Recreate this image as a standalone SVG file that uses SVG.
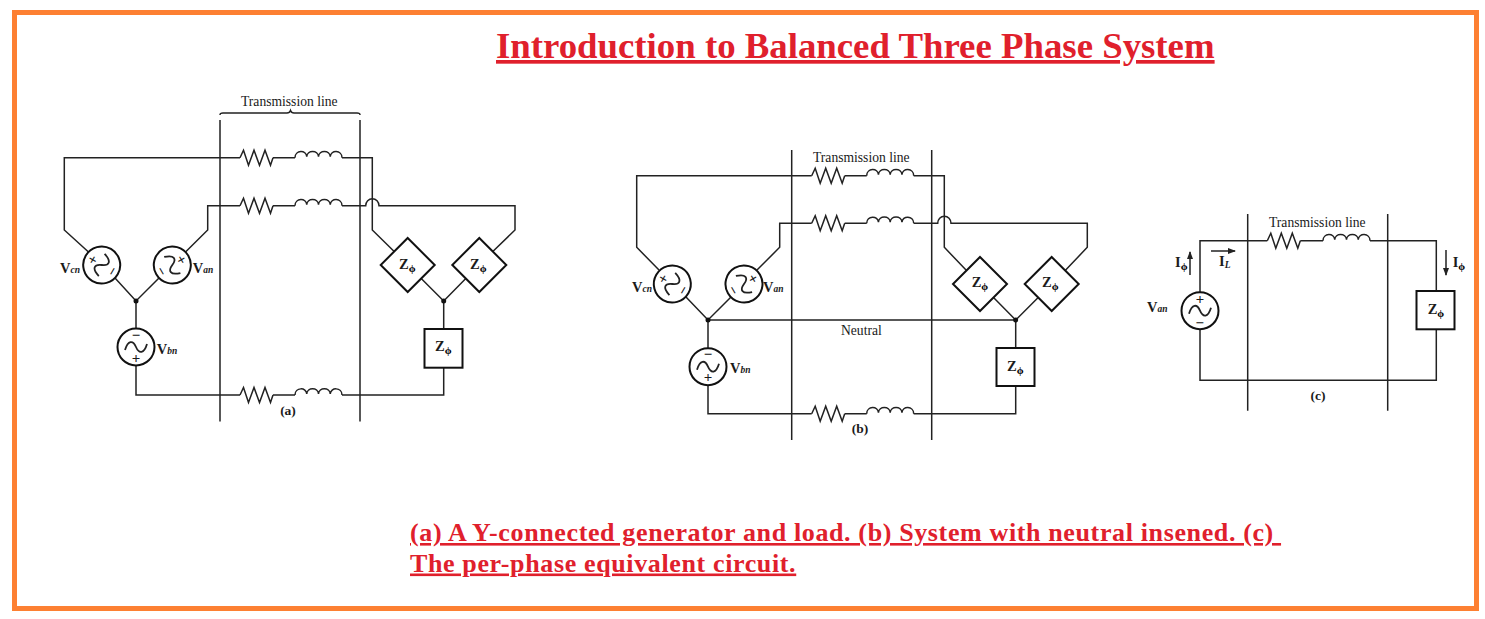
<svg xmlns="http://www.w3.org/2000/svg" width="1485" height="619" viewBox="0 0 1485 619">
<style>
.w{fill:none;stroke:#222;stroke-width:1.5;stroke-linejoin:miter}
.b{fill:#fff;stroke:#111;stroke-width:2}
.d{fill:#111;stroke:none}
text{font-family:"Liberation Serif","Times New Roman",serif;fill:#1a1a1a}
.t{font-size:13.6px}
.v{font-size:14.5px;font-weight:bold}
.s{font-size:9.5px;font-weight:bold;font-style:italic}
.f{font-size:11px;font-weight:bold;fill:#000}
.m{font-size:15px;font-weight:bold;text-anchor:middle}
.c{font-size:13.5px;font-weight:bold;text-anchor:middle}
.h{fill:#e0202c;font-weight:bold;white-space:pre;text-decoration:underline;text-decoration-thickness:3px;text-decoration-skip-ink:none}
.sub{font-size:26px;letter-spacing:.63px}
.arrow{fill:none;stroke:#222;stroke-width:1.5;marker-end:url(#ah)}
.tl{fill:none;stroke:#222;stroke-width:1.8}
</style>
<defs>
<marker id="ah" viewBox="0 0 8 6" refX="7" refY="3" markerWidth="8" markerHeight="6" markerUnits="userSpaceOnUse" orient="auto"><path d="M0 0L8 3L0 6z" fill="#222"/></marker>
<path id="res" class="w" d="M0 0L3.5-7.5L8.5 7.5L14-7.5L19.5 7.5L25-7.5L30.500 7.500L33 0"/>
<path id="ind" class="w" d="M0 0C0-8 11.500-8 11.750-1C12-8 23.250-8 23.500-1C23.750-8 35-8 35.250-1C35.500-8 47-8 47 0"/>
<g id="src">
<circle r="18.500" class="b"/>
<path class="tl" d="M-11 3C-8-7-3-7 0 0C3 7 8 7 11-3"/>
<text y="-7.500" class="m">−</text>
<text y="15.500" class="m">+</text>
</g>
<path id="dia" class="b" d="M0-27L27 0L0 27L-27 0z"/>
</defs>

<rect id="frame" x="14.500" y="12.500" width="1462" height="596" fill="#fff" stroke="#fd8032" stroke-width="5"/>

<g id="connectors">
<!-- (a) -->
<path class="w" d="M220 120V421.500M360 120V421.500"/>
<path class="w" d="M220 115C220 113 221 113 223 113H287C289 113 290 112 290.500 110.500C291 112 292 113 294 113H357C359 113 360 113 360 115"/>
<path class="w" d="M240 157.700H64.300V230L88.500 252M273 157.700H295M342 157.700H372.300V230L394.200 251.500"/>
<path class="w" d="M240 205.700H207.700V230L185.500 252M273 205.700H295M342 205.700H365.700A6.600 7 0 0 1 379 205.700H515V230L492.800 251.500"/>
<path class="w" d="M115 278L136 301L159 278M136 301V328.500M136 365.500V395H240M273 395H295M342 395H443.700V367.700M443.700 329V301L421.200 278.500M443.700 301L465.800 278.500"/>
<!-- (b) -->
<path class="w" d="M791.700 150V440M931.700 150V440"/>
<path class="w" d="M811.700 175.700H636.700V247.300L659 270M844.700 175.700H866.700M913.700 175.700H944.300V247.300L966.500 270.500"/>
<path class="w" d="M811.700 223.300H779.700V247.300L757 270M844.700 223.300H866.700M913.700 223.300H937.700A6.600 7 0 0 1 951 223.300H1087.300V247.300L1065.200 270.500"/>
<path class="w" d="M686 297L708 320L731 297M708 320V348M708 385.200V413.700H811.700M844.700 413.700H866.700M913.700 413.700H1015.700V386M1015.700 348V320L993.500 297.500M1015.700 320L1038.200 297.500M708 320H1015.700"/>
<!-- (c) -->
<path class="w" d="M1247.700 214V410.700M1387.700 214V410.700"/>
<path class="w" d="M1200 292V240.700H1267.300M1300.300 240.700H1323M1370 240.700H1436.300V291M1436.300 329.300V380.300H1200V329.500"/>
<path class="arrow" d="M1190 275V252"/>
<path class="arrow" d="M1211 251H1235"/>
<path class="arrow" d="M1446 250V275"/>
<!-- line elements -->
<use href="#res" x="240" y="157.700"/><use href="#ind" x="295" y="157.700"/>
<use href="#res" x="240" y="205.700"/><use href="#ind" x="295" y="205.700"/>
<use href="#res" x="240" y="395"/><use href="#ind" x="295" y="395"/>
<use href="#res" x="811.700" y="175.700"/><use href="#ind" x="866.700" y="175.700"/>
<use href="#res" x="811.700" y="223.300"/><use href="#ind" x="866.700" y="223.300"/>
<use href="#res" x="811.700" y="413.700"/><use href="#ind" x="866.700" y="413.700"/>
<use href="#res" x="1267.300" y="240.700"/><use href="#ind" x="1323" y="240.700"/>
</g>

<g id="a-vcn"><use href="#src" transform="translate(101.700 265) rotate(120)"/><text class="v" x="60" y="273">V<tspan class="s">cn</tspan></text></g>
<g id="a-van"><use href="#src" transform="translate(172.300 265) rotate(240)"/><text class="v" x="192.700" y="273">V<tspan class="s">an</tspan></text></g>
<g id="a-vbn"><use href="#src" transform="translate(136 347)"/><text class="v" x="156.700" y="354">V<tspan class="s">bn</tspan></text></g>
<g id="a-n"><circle class="d" cx="136" cy="301" r="2.500"/></g>
<g id="a-z1"><use href="#dia" x="407.700" y="265"/><text class="v" x="399" y="269" opacity=".99">Z<tspan class="f" dy="3">ϕ</tspan></text></g>
<g id="a-z2"><use href="#dia" x="479.300" y="265"/><text class="v" x="470" y="269" opacity=".99">Z<tspan class="f" dy="3">ϕ</tspan></text></g>
<g id="a-z3"><rect class="b" x="424.500" y="329" width="38" height="38.700"/><text class="v" x="435" y="351" opacity=".99">Z<tspan class="f" dy="3">ϕ</tspan></text></g>
<g id="a-m"><circle class="d" cx="443.700" cy="301" r="2.500"/></g>
<g id="a-labels"><text class="t" x="241" y="105.500">Transmission line</text><text class="c" x="288" y="415">(a)</text></g>

<g id="b-vcn"><use href="#src" transform="translate(672.300 284) rotate(120)"/><text class="v" x="632" y="291.700">V<tspan class="s">cn</tspan></text></g>
<g id="b-van"><use href="#src" transform="translate(744 284) rotate(240)"/><text class="v" x="763" y="291.700">V<tspan class="s">an</tspan></text></g>
<g id="b-vbn"><use href="#src" transform="translate(708 366.700)"/><text class="v" x="730" y="372.700">V<tspan class="s">bn</tspan></text></g>
<g id="b-n"><circle class="d" cx="708" cy="320" r="2.500"/></g>
<g id="b-z1"><use href="#dia" x="980" y="284"/><text class="v" x="971.700" y="287" opacity=".99">Z<tspan class="f" dy="3">ϕ</tspan></text></g>
<g id="b-z2"><use href="#dia" x="1051.700" y="284"/><text class="v" x="1042" y="287" opacity=".99">Z<tspan class="f" dy="3">ϕ</tspan></text></g>
<g id="b-z3"><rect class="b" x="996.500" y="348" width="38" height="38"/><text class="v" x="1007" y="370.700" opacity=".99">Z<tspan class="f" dy="3">ϕ</tspan></text></g>
<g id="b-m"><circle class="d" cx="1015.700" cy="320" r="2.500"/></g>
<g id="b-labels"><text class="t" x="813" y="162">Transmission line</text><text class="t" x="841" y="335">Neutral</text><text class="c" x="860" y="433">(b)</text></g>

<g id="c-van"><use href="#src" transform="translate(1200 310.700) rotate(180)"/><text class="v" x="1147" y="311.700">V<tspan class="s">an</tspan></text></g>
<g id="c-z"><rect class="b" x="1416.500" y="291" width="38" height="38.300"/><text class="v" x="1427.700" y="314" opacity=".99">Z<tspan class="f" dy="3">ϕ</tspan></text></g>
<g id="c-labels">
<text class="t" x="1269" y="226.500">Transmission line</text><text class="c" x="1318" y="400">(c)</text>
<text class="v" x="1175" y="266.700" opacity=".99">I<tspan class="f" dy="3">ϕ</tspan></text>
<text class="v" x="1219" y="266">I<tspan class="s" dy="2">L</tspan></text>
<text class="v" x="1452.700" y="267" opacity=".99">I<tspan class="f" dy="3">ϕ</tspan></text>
</g>

<g id="headings">
<text class="h" x="496" y="58" font-size="36.800">Introduction to Balanced Three Phase System</text>
<text class="h sub" x="410" y="541" xml:space="preserve">(a) A Y-connected generator and load. (b) System with neutral insened. (c) </text>
<text class="h sub" x="410" y="571.500">The per-phase equivalent circuit.</text>
</g>
</svg>
